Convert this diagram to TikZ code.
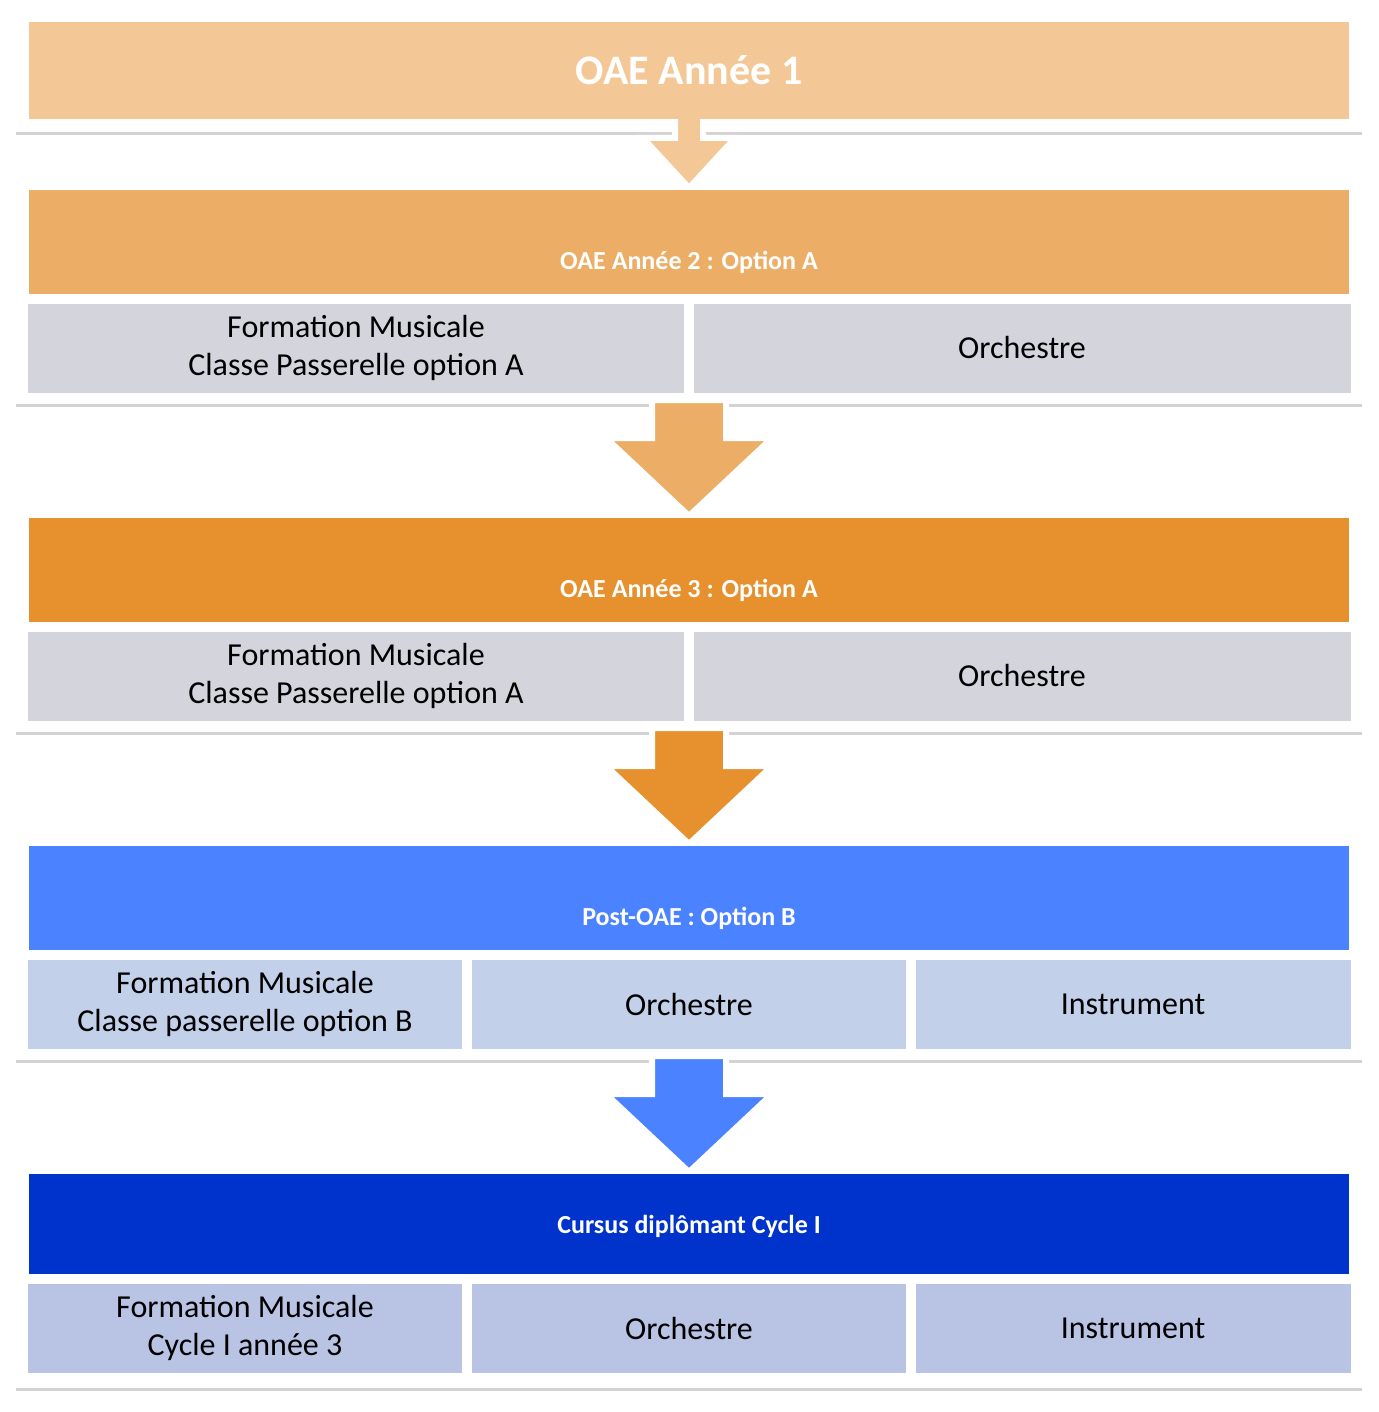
\documentclass[tikz,border=0pt]{standalone}
\usepackage{fontspec}
\setmainfont{Carlito}
\usetikzlibrary{shadows}
\definecolor{cA}{HTML}{F3C896}
\definecolor{cB}{HTML}{ECAE66}
\definecolor{cC}{HTML}{E6912D}
\definecolor{cD}{HTML}{4A82FF}
\definecolor{cE}{HTML}{0033CC}
\definecolor{gr}{HTML}{D4D4DC}
\definecolor{bl}{HTML}{C3D0EA}
\definecolor{bl2}{HTML}{B9C4E4}
\begin{document}
\begin{tikzpicture}[x=1pt,y=-1pt,
 panel/.style={fill=white,draw=none,drop shadow={shadow xshift=0pt,shadow yshift=-3pt,opacity=0.35}},
 hdr/.style={text=white,font=\bfseries\fontsize{26}{30}\selectfont},
 cell/.style={font=\fontsize{32}{38}\selectfont,align=center},
 arr/.style={draw=white,line width=6pt,line join=miter}]
\useasboundingbox (0,0) rectangle (1378,1412);
% panels
\foreach \t/\b in {8/132,178/404,506/732,834/1060,1162/1388}
  \fill[panel] (16,\t) rectangle (1362,\b);
% arrows
\draw[arr,fill=cA] (675,116)--(703,116)--(703,138)--(735,138)--(689,188)--(643,138)--(675,138)--cycle;
\foreach \y/\c in {404/cB,732/cC,1060/cD}
 \draw[arr,fill=\c] (652,\y-4)--(726,\y-4)--(726,\y+34)--(772,\y+34)--(689,\y+112)--(606,\y+34)--(652,\y+34)--cycle;
% headers
\fill[cA] (29,22) rectangle (1349,119);
\node[text=white,font=\bfseries\fontsize{42}{48}\selectfont] (h1) at (689,70) {OAE Année 1};
\fill[cB] (29,190) rectangle (1349,294);
\node[hdr] (h2) at (689,262) {OAE Année 2 : Option A};
\fill[cC] (29,518) rectangle (1349,622);
\node[hdr] (h3) at (689,590) {OAE Année 3 : Option A};
\fill[cD] (29,846) rectangle (1349,950);
\node[hdr] (h4) at (689,918) {Post-OAE : Option B};
\fill[cE] (29,1174) rectangle (1349,1274);
\node[hdr] (h5) at (689,1226) {Cursus diplômant Cycle I};
% cells row 2,3
\foreach \t/\n in {304/a,632/b}{
 \fill[gr] (28,\t) rectangle (684,\t+89);
 \fill[gr] (694,\t) rectangle (1351,\t+89);
 \node[cell] (\n1) at (356,\t+44) {Formation Musicale\\Classe Passerelle option A};
 \node[cell] (\n2) at (1022,\t+44) {Orchestre};
}
% row 4
\fill[bl] (28,960) rectangle (462,1049);
\fill[bl] (472,960) rectangle (906,1049);
\fill[bl] (916,960) rectangle (1351,1049);
\node[cell] (c1) at (245,1004) {Formation Musicale\\Classe passerelle option B};
\node[cell] (c2) at (689,1004) {Orchestre};
\node[cell] (c3) at (1133,1004) {Instrument};
% row 5
\fill[bl2] (28,1284) rectangle (462,1373);
\fill[bl2] (472,1284) rectangle (906,1373);
\fill[bl2] (916,1284) rectangle (1351,1373);
\node[cell] (d1) at (245,1328) {Formation Musicale\\Cycle I année 3};
\node[cell] (d2) at (689,1328) {Orchestre};
\node[cell] (d3) at (1133,1328) {Instrument};
\end{tikzpicture}
\end{document}
